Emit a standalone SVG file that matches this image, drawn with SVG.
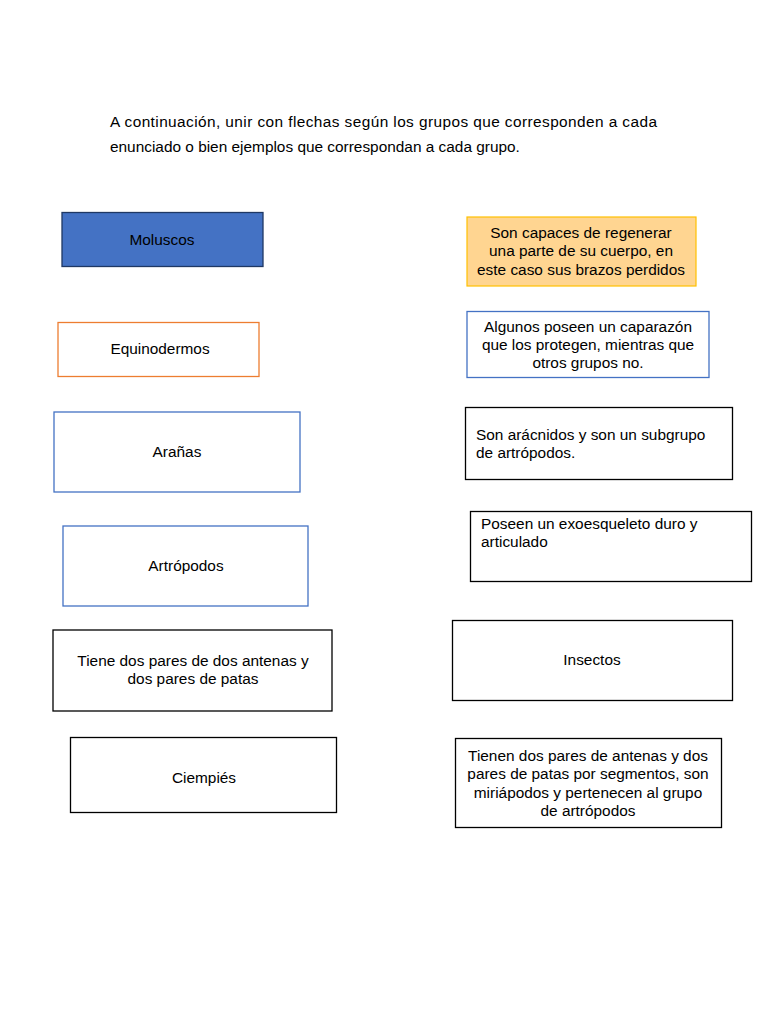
<svg xmlns="http://www.w3.org/2000/svg" width="768" height="1024" viewBox="0 0 768 1024">
<style>
text{font-family:"Liberation Sans",Arial,sans-serif;font-size:15.4px;fill:#000}
.c{text-anchor:middle}
.b{fill:#fff;stroke:#000;stroke-width:1.3}
.bl{fill:#fff;stroke:#4472C4;stroke-width:1.3}
</style>
<rect width="768" height="1024" fill="#fff"/>
<g id="intro">
<text x="110" y="127" textLength="547" lengthAdjust="spacing">A continuación, unir con flechas según los grupos que corresponden a cada</text>
<text x="110" y="152">enunciado o bien ejemplos que correspondan a cada grupo.</text>
</g>
<g id="moluscos"><rect x="62" y="212.5" width="201" height="54" fill="#4472C4" stroke="#1F3864" stroke-width="1.3"/><text class="c" x="162" y="245">Moluscos</text></g>
<g id="equinodermos"><rect x="58" y="322.5" width="201" height="54" fill="#fff" stroke="#ED7D31" stroke-width="1.3"/><text class="c" x="160" y="354">Equinodermos</text></g>
<g id="aranas"><rect class="bl" x="54" y="412" width="246" height="80"/><text class="c" x="177" y="457">Arañas</text></g>
<g id="artropodos"><rect class="bl" x="63" y="526" width="245" height="80"/><text class="c" x="186" y="571">Artrópodos</text></g>
<g id="tiene"><rect class="b" x="53" y="630" width="279" height="81"/><text class="c" x="193" y="666">Tiene dos pares de dos antenas y</text><text class="c" x="193" y="684">dos pares de patas</text></g>
<g id="ciempies"><rect class="b" x="70.5" y="737.5" width="266" height="75"/><text class="c" x="204" y="783">Ciempiés</text></g>
<g id="regenerar"><rect x="467" y="217" width="229" height="69" fill="#FFD591" stroke="#FFC000" stroke-width="1.2"/><text class="c" x="581" y="238">Son capaces de regenerar</text><text class="c" x="581" y="256">una parte de su cuerpo, en</text><text class="c" x="581" y="275">este caso sus brazos perdidos</text></g>
<g id="caparazon"><rect class="bl" x="467" y="311.5" width="242" height="66"/><text class="c" x="588" y="332">Algunos poseen un caparazón</text><text class="c" x="588" y="350">que los protegen, mientras que</text><text class="c" x="588" y="368">otros grupos no.</text></g>
<g id="aracnidos"><rect class="b" x="465.5" y="407.5" width="267" height="72"/><text x="476" y="440">Son arácnidos y son un subgrupo</text><text x="476" y="458">de artrópodos.</text></g>
<g id="exoesqueleto"><rect class="b" x="470.5" y="511.5" width="281" height="70"/><text x="481" y="529">Poseen un exoesqueleto duro y</text><text x="481" y="547">articulado</text></g>
<g id="insectos"><rect class="b" x="452.5" y="620.5" width="280" height="80"/><text class="c" x="592" y="665">Insectos</text></g>
<g id="miriapodos"><rect class="b" x="455.5" y="738.5" width="266" height="89"/><text class="c" x="588" y="761">Tienen dos pares de antenas y dos</text><text class="c" x="588" y="779">pares de patas por segmentos, son</text><text class="c" x="588" y="798">miriápodos y pertenecen al grupo</text><text class="c" x="588" y="816">de artrópodos</text></g>
<g id="connectors"></g>
</svg>
